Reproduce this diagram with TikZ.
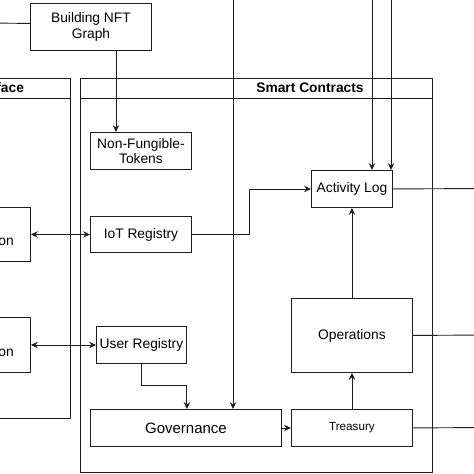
\documentclass[tikz,border=0pt]{standalone}
\usepackage{fontspec}
\setmainfont{Liberation Sans}
\usetikzlibrary{arrows.meta, positioning, calc}
\definecolor{inkgray}{RGB}{30, 30, 30}

\begin{document}
\begin{tikzpicture}[
  x=1pt, y=-1pt,
  line width=0.9pt, draw=inkgray,
  box/.style = {
    draw=inkgray, anchor=north west, inner sep=2pt,
    align=center, font=\fontsize{13.8}{15.5}\selectfont
  },
  panel/.style = { draw=inkgray, anchor=north west, inner sep=0pt },
  head/.style = { font=\fontsize{13.8}{15.5}\selectfont\bfseries, inner sep=0pt },
  arr/.style = { -{Stealth[length=7pt, width=6.5pt, inset=2.5pt]}, draw=inkgray },
  dbl/.style = { {Stealth[length=7pt, width=6.5pt, inset=2.5pt]}-{Stealth[length=7pt, width=6.5pt, inset=2.5pt]}, draw=inkgray }
]
\useasboundingbox (0,0) rectangle (474,474);

% panels
\node[panel, minimum width=186pt, minimum height=340pt] (uipanel) at (-116,78) {};
\node[panel, minimum width=352pt, minimum height=394pt] (scpanel) at (80,78) {};
\draw ([yshift=-20pt]uipanel.north west) -- ([yshift=-20pt]uipanel.north east);
\draw ([yshift=-20pt]scpanel.north west) -- ([yshift=-20pt]scpanel.north east);
\node[head] (uihead) at (-22,88) {User Interface};
\node[head] (schead) at (310,88) {Smart Contracts};

% boxes
\node[box, minimum width=121pt, minimum height=47pt] (graph) at (30,3) {Building NFT\\Graph};
\node[box, minimum width=101pt, minimum height=37pt] (nft) at (90,132) {Non-Fungible-\\Tokens};
\node[box, minimum width=101pt, minimum height=36pt] (iot) at (90,216) {IoT Registry};
\node[box, minimum width=81pt, minimum height=37pt] (actlog) at (311,170) {Activity Log};
\node[box, minimum width=101pt, minimum height=54pt] (iotapp) at (-71,207) {IoT\\Application};
\node[box, minimum width=101pt, minimum height=55pt] (usrapp) at (-71,317) {User\\Application};
\node[box, minimum width=90pt, minimum height=37pt] (usr) at (96,326) {User Registry};
\node[box, minimum width=191pt, minimum height=37pt, font=\fontsize{15}{17}\selectfont] (gov) at (90,409) {Governance};
\node[box, minimum width=121pt, minimum height=37pt, font=\fontsize{11.7}{13}\selectfont] (treasury) at (291,409) {Treasury};
\node[box, minimum width=121pt, minimum height=74pt] (ops) at (291,298) {Operations};

% free ends
\coordinate (graphout) at (-10,23);
\coordinate (topA) at (233,-10);
\coordinate (topB) at (372,-10);
\coordinate (topC) at (391,-10);
\coordinate (logout) at (484,188.5);
\coordinate (opsout) at (484,335);
\coordinate (treout) at (484,427.5);

% connectors
\draw ([yshift=3.5pt]graph.west) -- (graphout);
\draw[arr] ([xshift=25pt]graph.south) -- ([xshift=25pt]graph.south |- nft.north);
\draw[arr] (topA) -- (topA |- gov.north);
\draw[arr] (topB) -- (topB |- actlog.north);
\draw[arr] (topC) -- (topC |- actlog.north);
\draw[arr] (iot.east) -- ++(58,0) |- (actlog.west);
\draw (actlog.east) -- (logout);
\draw[dbl] (iotapp.east) -- (iot.west);
\draw[dbl] (usrapp.east) -- (usr.west);
\draw[arr] (usr.south) -- ++(0,22) -| (usr.east |- gov.north);
\draw[arr] (gov.east) -- (treasury.west);
\draw[arr] (treasury.north) -- (ops.south);
\draw[arr] (ops.north) -- (actlog.south);
\draw (ops.east) -- (opsout);
\draw (treasury.east) -- (treout);

\end{tikzpicture}
\end{document}
